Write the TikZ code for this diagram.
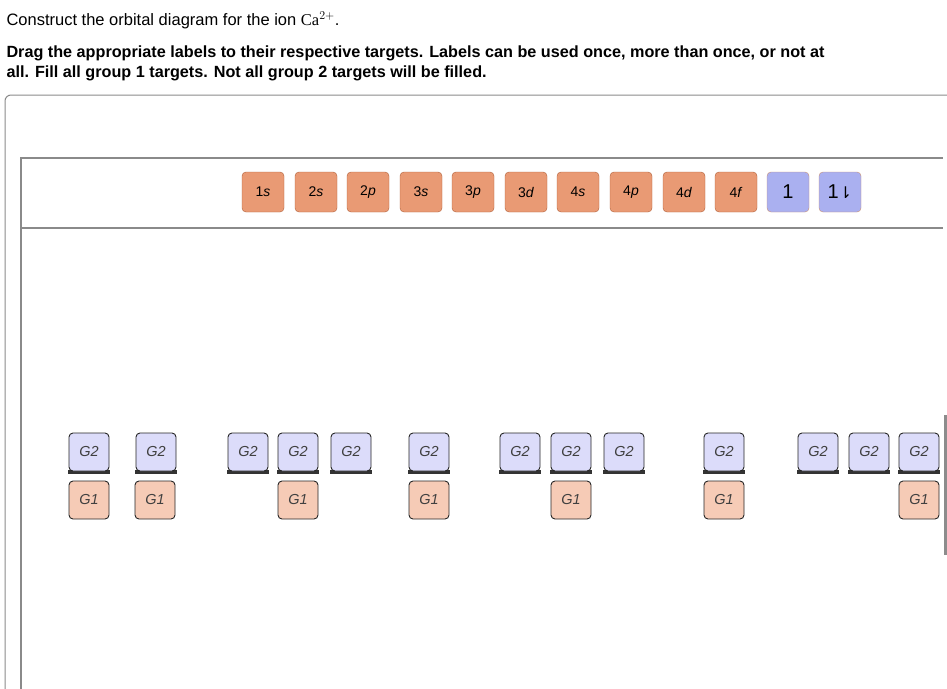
\documentclass[tikz,border=0pt]{standalone}
\usepackage{fontspec}
\setmainfont{Liberation Sans}
\newfontfamily\serifca{Liberation Serif}
\newfontfamily\djv{DejaVu Sans}
\definecolor{orb}{HTML}{E99A74}
\definecolor{orbd}{HTML}{B0603A}
\definecolor{spin}{HTML}{AAB0F0}
\definecolor{gtwo}{HTML}{DCDCFA}
\definecolor{gone}{HTML}{F6CBB6}
\definecolor{frame}{HTML}{8A8A8A}
\begin{document}
\begin{tikzpicture}[x=1pt,y=-1pt,
 lab/.style={draw=orbd,fill=orb,rounded corners=4pt,minimum width=42pt,minimum height=40pt,font=\fontsize{14}{14}\selectfont\itshape,inner sep=0pt},
 sp/.style={lab,fill=spin,draw=orbd!70,font=\fontsize{20}{20}\selectfont\upshape},
 gt/.style={draw=black!85,line width=0.9pt,fill=gtwo,rounded corners=4pt,minimum width=40pt,minimum height=38pt,font=\fontsize{14.5}{14.5}\selectfont\itshape,inner sep=0pt,text=black!75},
 go/.style={gt,fill=gone}]
\useasboundingbox (0,0) rectangle (947,688);
\node[anchor=west,font=\fontsize{16.5}{16.5}\selectfont] (t1) at (3,20) {Construct the orbital diagram for the ion {\serifca Ca}$^{2+}$.};
\node[anchor=west,font=\fontsize{16.2}{16.2}\selectfont\bfseries] (t2) at (3,53) {Drag the appropriate labels to their respective targets. Labels can be used once, more than once, or not at};
\node[anchor=west,font=\fontsize{16.2}{16.2}\selectfont\bfseries] (t3) at (3,73) {all. Fill all group 1 targets. Not all group 2 targets will be filled.};
\draw[frame,line width=1pt,rounded corners=6pt] (5,700) -- (5,95) -- (960,95);
\draw[frame,line width=1.5pt] (21,700) -- (21,158) -- (943,158);
\draw[frame,line width=1.5pt] (21,228) -- (943,228);
\draw[black!45,line width=3pt] (945,415) -- (945,555);
\foreach \t/\x/\n in {1\textit{s}/263/a,2\textit{s}/316/b,2\textit{p}/368/c,3\textit{s}/421/d,3\textit{p}/473/e,3\textit{d}/526/f,4\textit{s}/578/g,4\textit{p}/631/h,4\textit{d}/684/i,4\textit{f}/736/j}
  \node[lab] (\n) at (\x,192) {\upshape\t};
\node[sp] (s1) at (788,192) {1};
\node[sp] (s2) at (840,192) {1{\djv\fontsize{16}{16}\selectfont ⇂}};
\foreach \x [count=\i] in {89,156,248,298,351,429,520,571,624,724,818,869,919}{
  \fill[black!80] (\x-21,470) rectangle (\x+21,474);
  \node[gt] (gt\i) at (\x,452) {G2};}
\foreach \x [count=\i] in {89,155,298,429,571,724,919}
  \node[go] (go\i) at (\x,500) {G1};
\end{tikzpicture}
\end{document}
